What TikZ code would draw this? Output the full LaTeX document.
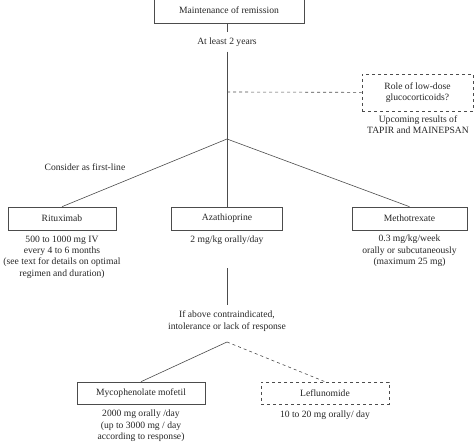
\documentclass[tikz,border=0pt]{standalone}
\usepackage{fontspec}
\setmainfont{Liberation Serif}
\usetikzlibrary{shapes,arrows}

\begin{document}
\begin{tikzpicture}[x=1pt, y=1pt, every node/.style={font=\fontsize{9.6}{11.3}\selectfont, text=black!85, align=center}]

% Define styles
\tikzstyle{drug} = [rectangle, draw=black!70, fill=white, line width=0.6pt, inner sep=0pt, minimum height=23]
\tikzstyle{option} = [drug, dashed]
\tikzstyle{note} = [inner sep=2.5pt]
\tikzstyle{link} = [draw=black!70, line width=0.6pt]

\useasboundingbox (0,0) rectangle (474,444);

% Nodes
\node[drug, minimum width=150, minimum height=26] (maint) at (229,434) {Maintenance of remission};
\node[note, inner sep=5pt] (years) at (227,402) {At least 2 years};

\coordinate (gc) at (227,352);
\node[option, minimum width=111, minimum height=37] (gluco) at (417.5,351.5) {Role of low-dose\\glucocorticoids?};
\node[note] (tapir) at (418,319) {Upcoming results of\\TAPIR and MAINEPSAN};

\coordinate (fork) at (227,305);
\node[note] (first) at (85,277) {Consider as first-line};

\node[drug, minimum width=108] (rit) at (62,225.5) {Rituximab};
\node[note] (ritdose) at (62,187) {500 to 1000 mg IV\\every 4 to 6 months\\(see text for details on optimal\\regimen and duration)};

\node[drug, minimum width=111] (aza) at (227,225.5) {Azathioprine};
\node[note] (azadose) at (227,204) {2 mg/kg orally/day};

\node[drug, minimum width=115] (mtx) at (409.5,225.5) {Methotrexate};
\node[note] (mtxdose) at (409.5,193) {0.3 mg/kg/week\\orally or subcutaneously\\(maximum 25 mg)};

\node[note, inner sep=6pt] (fallback) at (227,123) {If above contraindicated,\\intolerance or lack of response};
\coordinate (alt) at (227,102);

\node[drug, minimum width=128, minimum height=22] (myco) at (141,51) {Mycophenolate mofetil};
\node[note] (mycodose) at (141,18) {2000 mg orally /day\\(up to 3000 mg / day\\according to response)};

\node[option, minimum width=128, minimum height=22] (lef) at (325,51) {Leflunomide};
\node[note] (lefdose) at (325,29) {10 to 20 mg orally/ day};

% Connectors
\draw[link] (maint.south -| years) -- (years);
\draw[link] (years) -- (aza);
\draw[link, dashed] (gc) -- (gluco);
\draw[link] (fork) -- (rit.north);
\draw[link] (fork) -- (mtx.north);
\draw[link, shorten <=21pt] (azadose) -- (fallback);
\draw[link] (alt) -- (myco.north);
\draw[link, dashed] (alt) -- (lef.north);

\end{tikzpicture}
\end{document}
